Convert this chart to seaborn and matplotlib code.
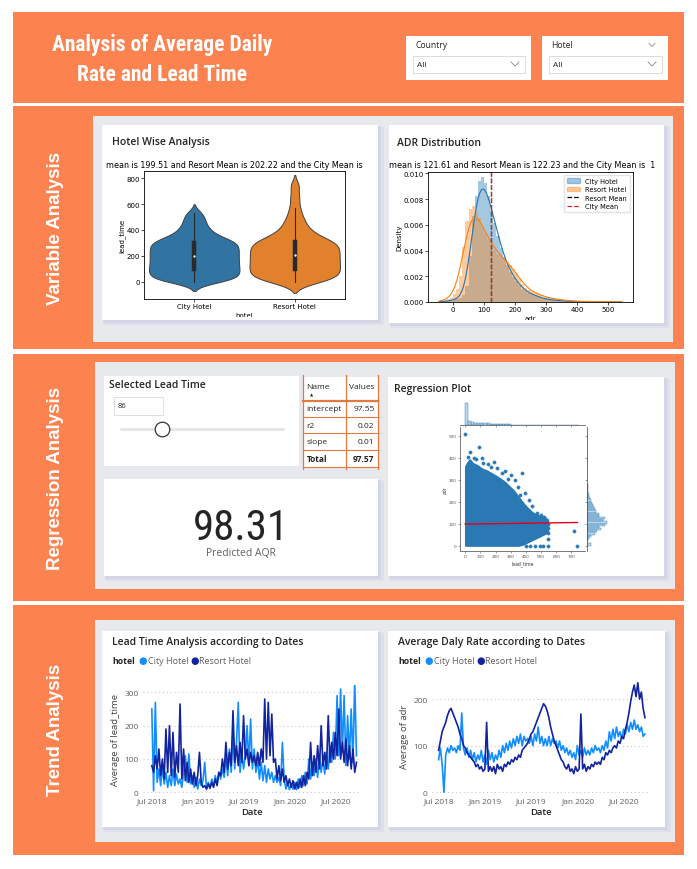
import numpy as np
import pandas as pd
import matplotlib
matplotlib.use('Agg')
import matplotlib.pyplot as plt
import matplotlib.dates as mdates
from matplotlib.patches import Rectangle
from matplotlib.lines import Line2D
from matplotlib.transforms import Bbox, TransformedBbox
from matplotlib import font_manager
import seaborn as sns

plt.rcParams['font.family'] = ['DejaVu Sans']

# ---------------- data ----------------
hotels = ['City Hotel', 'Resort Hotel']
city_lead_sample = [0, 7, 15, 24, 31, 40, 48, 57, 64, 73, 81, 90, 97, 105, 114, 122, 130, 139, 147, 156,
                    164, 172, 181, 189, 197, 206, 214, 223, 231, 239, 248, 256, 264, 273, 281, 290, 298,
                    306, 315, 323, 332, 346, 362, 381, 402, 428, 458, 492, 530]
resort_lead_sample = [0, 6, 14, 23, 32, 39, 49, 56, 65, 72, 82, 89, 98, 106, 113, 123, 131, 138, 148, 155,
                      165, 173, 180, 190, 198, 205, 215, 222, 232, 240, 247, 257, 265, 272, 282, 289, 299,
                      307, 314, 324, 333, 348, 365, 385, 408, 435, 470, 510, 570, 650, 740]
overall_lead_mean, resort_lead_mean = 199.51, 202.22
overall_adr_mean, resort_adr_mean, city_adr_mean = 121.61, 122.23, 121.61

adr_bin_centers = list(range(-45, 550, 10))
city_adr_density = [0.00002, 0.00003, 0.00005, 0.00008, 0.0001,
                    0.0002, 0.0002, 0.0003, 0.0005, 0.0012, 0.0035, 0.0065, 0.0080, 0.0092, 0.0095,
                    0.0090, 0.0080, 0.0070, 0.0060, 0.0050, 0.0041, 0.0034, 0.0028, 0.0023, 0.0019,
                    0.0016, 0.0013, 0.0010, 0.0008, 0.0007, 0.0006, 0.0005, 0.0004, 0.0003, 0.00025,
                    0.0002, 0.00018, 0.00015, 0.00012, 0.0001, 0.00008, 0.00006, 0.00005, 0.00004, 0.00003,
                    0.00002, 0.00002, 0.00002, 0.00001, 0.00001, 0.00001, 0.00001, 0.00001, 0.00001, 0.00001,
                    0.00001, 0.00001, 0.00001, 0.00001, 0.00001]
resort_adr_density = [0.00005, 0.0001, 0.00015, 0.0002, 0.0003,
                      0.0006, 0.0010, 0.0020, 0.0042, 0.0062, 0.0071, 0.0073, 0.0069, 0.0064, 0.0058,
                      0.0053, 0.0048, 0.0044, 0.0040, 0.0037, 0.0035, 0.0033, 0.0031, 0.0028, 0.0025,
                      0.0022, 0.0018, 0.0014, 0.0011, 0.0009, 0.0008, 0.0007, 0.0006, 0.0005, 0.0004,
                      0.00035, 0.0003, 0.00025, 0.0002, 0.00018, 0.00015, 0.00012, 0.0001, 0.00008, 0.00006,
                      0.00005, 0.00005, 0.00004, 0.00004, 0.00003, 0.00003, 0.00003, 0.00002, 0.00002, 0.00002,
                      0.00002, 0.00001, 0.00001, 0.00001, 0.00001]

selected_lead_time = 86
table_names = ['intercept', 'r2', 'slope']
table_values = [97.55, 0.02, 0.01]
table_total = 97.57
predicted_adr = 98.31

reg_lead_grid = [0, 15, 30, 50, 80, 110, 140, 170, 200, 230, 260, 290, 320, 350, 380, 410, 440, 470, 500, 530, 545]
reg_adr_upper = [360, 380, 392, 375, 365, 350, 342, 330, 318, 305, 290, 270, 250, 222, 195, 172, 152, 140, 135, 125, 118]
reg_adr_lower = [0, 0, 0, 0, 0, 0, 0, 0, 0, 0, 0, 0, 0, 0, 5, 15, 25, 35, 45, 55, 60]
out_lead = [0, 33, 88, 110, 187, 260, 300, 330, 374, 418, 395, 440, 470, 500, 520, 545, 545, 545, 545, 545,
            400, 430, 460, 490, 510, 715, 740, 210, 150, 60, 120, 240, 280, 345, 360, 20, 70, 170]
out_adr = [510, 425, 447, 397, 380, 340, 320, 300, 330, 208, 240, 180, 150, 140, 130, 100, 80, 55, 30, 0,
           0, 0, 0, 0, 0, 64, 0, 355, 370, 400, 375, 330, 305, 265, 230, 405, 395, 360]
lead_hist_centers = list(range(10, 750, 20))
lead_hist_counts = [1.0, 0.16, 0.13, 0.11, 0.10, 0.09, 0.08, 0.07, 0.062, 0.055, 0.048, 0.042, 0.036, 0.03,
                    0.026, 0.022, 0.019, 0.016, 0.013, 0.011, 0.009, 0.007, 0.006, 0.005, 0.004, 0.003,
                    0.0025, 0.002, 0.0015, 0.001, 0.0008, 0.0006, 0.0004, 0.0003, 0.0002, 0.0002, 0.0003]
adr_hist_centers = list(range(5, 515, 10))
adr_hist_counts = [0.22, 0.02, 0.04, 0.10, 0.22, 0.38, 0.52, 0.68, 0.6, 0.88,
                   1.0, 0.78, 0.92, 0.62, 0.58, 0.47, 0.42, 0.33, 0.3, 0.23,
                   0.2, 0.15, 0.12, 0.09, 0.07, 0.05, 0.04, 0.03, 0.02, 0.015,
                   0.01, 0.008, 0.006, 0.005, 0.004, 0.003, 0.002, 0.002, 0.001, 0.001,
                   0.001, 0.0005, 0.0005, 0.0005, 0.0003, 0.0003, 0.0002, 0.0002, 0.0001, 0.0001, 0.0003]

week_dates = pd.date_range('2018-07-01', periods=117, freq='7D')
city_lead_ts = [250, 5, 270, 30, 70, 20, 80, 25, 60, 15, 50, 20, 70, 20, 55, 25,
                40, 15, 60, 110, 30, 115, 25, 50, 15, 45, 10, 40, 20, 35,
                90, 10, 30, 15, 40, 20, 50, 25, 60, 40,
                70, 45, 110, 50, 130, 60, 190, 70, 150, 270,
                60, 120, 70, 110, 200, 80, 220, 70, 130, 60,
                100, 40, 90, 35, 80, 30, 70, 40, 60, 30,
                50, 30, 45, 20, 150, 40, 10, 30, 8, 25,
                10, 30, 8, 40, 15, 50, 20, 60, 25, 100,
                40, 90, 50, 100, 45, 110, 60, 100, 55, 120,
                70, 140, 90, 180, 100, 290, 110, 310, 120, 290,
                80, 230, 100, 250, 90, 335, 110]
resort_lead_ts = [80, 60, 110, 70, 130, 50, 100, 40, 190, 60, 200, 50, 180, 45, 120, 60,
                  265, 40, 130, 35, 90, 30, 70, 25, 60, 20, 50, 120, 30, 15,
                  20, 10, 25, 12, 30, 15, 40, 20, 60, 50,
                  100, 60, 150, 70, 120, 80, 245, 90, 140, 80,
                  150, 90, 230, 100, 130, 80, 120, 90, 110, 80,
                  120, 80, 130, 90, 280, 100, 270, 110, 235, 90,
                  100, 40, 80, 35, 70, 30, 50, 20, 40, 15,
                  35, 10, 30, 12, 40, 15, 50, 20, 60, 40,
                  150, 50, 110, 60, 140, 70, 200, 80, 120, 70,
                  230, 90, 150, 100, 180, 110, 250, 100, 150, 90,
                  160, 80, 140, 70, 130, 60, 90]
city_adr_ts = [70, 95, 60, 0, 80, 95, 85, 100, 90, 95,
               85, 100, 90, 170, 95, 80, 95, 75, 90, 70,
               85, 65, 80, 70, 90, 65, 80, 60, 90, 70,
               85, 65, 80, 70, 90, 75, 100, 85, 105, 90,
               110, 95, 115, 100, 120, 105, 125, 100, 120, 110,
               115, 105, 120, 100, 125, 110, 140, 105, 120, 100,
               115, 100, 120, 100, 115, 105, 110, 95, 110, 90,
               100, 85, 95, 80, 90, 75, 85, 70, 100, 80,
               90, 75, 95, 80, 90, 80, 95, 85, 100, 90,
               95, 85, 100, 90, 110, 95, 130, 110, 135, 115,
               140, 120, 130, 115, 135, 125, 145, 130, 150, 135,
               155, 135, 145, 130, 140, 120, 125]
resort_adr_ts = [90, 110, 130, 140, 150, 165, 175, 180, 170, 160,
                 150, 140, 125, 115, 100, 95, 85, 80, 75, 70,
                 65, 55, 60, 50, 55, 45, 50, 150, 45, 55,
                 45, 55, 40, 60, 50, 55, 45, 60, 55, 65,
                 60, 70, 65, 75, 70, 80, 75, 90, 95, 100,
                 105, 115, 125, 130, 140, 150, 160, 170, 180, 190,
                 185, 175, 160, 140, 125, 110, 100, 90, 80, 70,
                 65, 55, 50, 60, 45, 50, 40, 55, 45, 50,
                 168, 50, 60, 45, 55, 50, 60, 55, 65, 60,
                 65, 60, 75, 70, 85, 80, 90, 85, 95, 100,
                 95, 110, 105, 120, 115, 135, 150, 170, 195, 215,
                 230, 205, 235, 200, 215, 180, 160]

# ---------------- helpers ----------------
W, H = 697, 870
fig = plt.figure(figsize=(W / 100, H / 100), dpi=100)
fig.patch.set_facecolor('white')

ORANGE = '#FC8250'
PANEL = '#E8E9ED'
SHADOW = '#D4D6E5'
DARK = '#252423'
MID = '#605E5C'
TITLE_FONT = ['Open Sans', 'DejaVu Sans']
installed = {f.name for f in font_manager.fontManager.ttflist}
NARROW = [f for f in ['Liberation Sans Narrow', 'Roboto Condensed', 'Open Sans Condensed'] if f in installed]
HEAD_FONT = NARROW + ['DejaVu Sans']


def fx(x):
    return x / W


def fy(y):
    return 1 - y / H


def box(x0, y0, x1, y1, color, z=-5, ec='none', lw=0):
    r = Rectangle((fx(x0), fy(y1)), (x1 - x0) / W, (y1 - y0) / H, transform=fig.transFigure,
                  facecolor=color, edgecolor=ec, linewidth=lw, zorder=z)
    fig.add_artist(r)
    return r


def card(x0, y0, x1, y1, shadow=True):
    if shadow:
        box(x0 + 2, y0 + 2, x1 + 6, y1 + 5, '#DDDFEA', z=-4)
        box(x0 + 1, y0 + 1, x1 + 3, y1 + 3, SHADOW, z=-3.5)
    box(x0, y0, x1, y1, 'white', z=-3)


def txt(x, y, s, **kw):
    kw.setdefault('va', 'center')
    return fig.text(fx(x), fy(y), s, **kw)


def line(xs, ys, **kw):
    fig.add_artist(Line2D([fx(v) for v in xs], [fy(v) for v in ys], transform=fig.transFigure, **kw))


def axes_px(x0, y0, x1, y1):
    return fig.add_axes([fx(x0), fy(y1), (x1 - x0) / W, (y1 - y0) / H])


def clip_to(artist, x0, y0, x1, y1):
    bb = TransformedBbox(Bbox.from_extents(fx(x0), fy(y1), fx(x1), fy(y0)), fig.transFigure)
    artist.set_clip_box(bb)
    artist.set_clip_on(True)


# ---------------- background ----------------
box(13, 13, 684, 104, ORANGE)
box(13, 107, 684, 350, ORANGE)
box(13, 355, 684, 602, ORANGE)
box(13, 606, 684, 856, ORANGE)
box(93, 117, 673, 343, PANEL, z=-4.5)
box(95, 363, 675, 590, PANEL, z=-4.5)
box(95, 621, 675, 843, PANEL, z=-4.5)

# header
hsize = 15.5 if NARROW else 13
hdr = dict(color='white', fontsize=hsize, fontweight='bold', ha='center', family=HEAD_FONT)
txt(162, 45, 'Analysis of Average Daily', **hdr)
txt(162, 75, 'Rate and Lead Time', **hdr)

for (bx0, bx1, label, top_chev) in [(406, 531, 'Country', False), (542, 668, 'Hotel', True)]:
    box(bx0, 37, bx1, 81, 'white', z=-2)
    txt(bx0 + 9, 46, label, fontsize=6.2, color=DARK, family=TITLE_FONT)
    box(bx0 + 7, 57, bx1 - 6, 74, 'white', z=-1.5, ec='#D6D6D6', lw=0.6)
    txt(bx0 + 11, 65.5, 'All', fontsize=6, color=DARK, family=TITLE_FONT)
    cx = bx1 - 16
    line([cx - 4, cx, cx + 4], [63, 67, 63], color='#8A8886', lw=0.6)
    if top_chev:
        line([cx - 3, cx, cx + 3], [44.5, 47.5, 44.5], color='#8A8886', lw=0.6)

side = dict(rotation=90, color='white', fontsize=13.5, fontweight='bold', ha='center',
            family=['Liberation Sans', 'DejaVu Sans'])
txt(56, 228, 'Variable Analysis', **side)
txt(56, 478, 'Regression Analysis', **side)
txt(56, 730, 'Trend Analysis', **side)

ttl = dict(fontsize=7.5, color=DARK, fontweight='semibold', family=TITLE_FONT)

# ---------------- Hotel Wise Analysis ----------------
card(102, 126, 378, 321)
txt(112, 143, 'Hotel Wise Analysis', **ttl)
t = txt(106, 166, 'mean is %.2f and Resort Mean is %.2f and the City Mean is' % (overall_lead_mean, resort_lead_mean),
        fontsize=5.8, color='black')
clip_to(t, 104, 126, 372, 321)

ax = axes_px(144, 172, 345, 300)
df_v = pd.DataFrame({'hotel': [hotels[0]] * len(city_lead_sample) + [hotels[1]] * len(resort_lead_sample),
                     'lead_time': city_lead_sample + resort_lead_sample})
sns.violinplot(data=df_v, x='hotel', y='lead_time', hue='hotel', palette=['#1f77b4', '#ff7f0e'],
               bw_adjust=0.55, width=0.9, linewidth=0.7, inner='box', legend=False, ax=ax,
               inner_kws=dict(box_width=3.2, whis_width=0.8, color='#2a2a2a', marker='.', markersize=2))
ax.set_ylim(-131, 854)
ax.set_yticks([0, 200, 400, 600, 800])
ax.tick_params(labelsize=5, length=2, width=0.5, pad=1)
ax.set_ylabel('lead_time', fontsize=5, labelpad=1)
ax.set_xlabel('hotel', fontsize=5, labelpad=2)
clip_to(ax.xaxis.label, 102, 126, 378, 318)
for s in ax.spines.values():
    s.set_linewidth(0.6)
    s.set_color('black')

# ---------------- ADR Distribution ----------------
card(389, 126, 664, 324)
txt(397, 143, 'ADR Distribution', **ttl)
t = txt(389, 166, 'mean is %.2f and Resort Mean is %.2f and the City Mean is  1' % (overall_adr_mean, resort_adr_mean),
        fontsize=5.8, color='black')
clip_to(t, 389, 126, 664, 324)

ax = axes_px(428, 173, 633, 303)
edges = [c - 5 for c in adr_bin_centers] + [adr_bin_centers[-1] + 5]
sns.histplot(x=adr_bin_centers, weights=city_adr_density, bins=edges, stat='density', kde=True,
             kde_kws={'bw_adjust': 0.5}, color='#1f77b4', alpha=0.4, linewidth=0, ax=ax,
             line_kws={'linewidth': 0.8})
sns.histplot(x=adr_bin_centers, weights=resort_adr_density, bins=edges, stat='density', kde=True,
             kde_kws={'bw_adjust': 0.5}, color='#ff7f0e', alpha=0.4, linewidth=0, ax=ax,
             line_kws={'linewidth': 0.8})
ax.axvline(resort_adr_mean, color='black', ls='--', lw=0.9)
ax.axvline(city_adr_mean, color='#d62728', ls='--', lw=0.9)
ax.set_xlim(-81, 581)
ax.set_ylim(0, 0.0101)
ax.set_xticks([0, 100, 200, 300, 400, 500])
ax.set_yticks([0, 0.002, 0.004, 0.006, 0.008, 0.010])
ax.yaxis.set_major_formatter(matplotlib.ticker.FormatStrFormatter('%.3f'))
ax.tick_params(labelsize=5, length=2, width=0.5, pad=1)
ax.set_ylabel('Density', fontsize=5, labelpad=1)
ax.set_xlabel('adr', fontsize=5, labelpad=2)
clip_to(ax.xaxis.label, 389, 126, 664, 321)
for s in ax.spines.values():
    s.set_linewidth(0.6)
    s.set_color('black')
handles = [Rectangle((0, 0), 1, 1, color='#1f77b4', alpha=0.4),
           Rectangle((0, 0), 1, 1, color='#ff7f0e', alpha=0.4),
           Line2D([], [], color='black', ls='--', lw=0.9),
           Line2D([], [], color='#d62728', ls='--', lw=0.9)]
ax.legend(handles, ['City Hotel', 'Resort Hotel', 'Resort Mean', 'City Mean'], loc='upper right',
          fontsize=4.8, frameon=True, borderpad=0.4, handlelength=2.0, labelspacing=0.35,
          fancybox=False, edgecolor='#DDDDDD')

# ---------------- Selected Lead Time ----------------
card(104, 377, 299, 467, shadow=False)
txt(109, 386, 'Selected Lead Time', **ttl)
box(114, 398, 163, 416, 'white', z=-2, ec='#D9D9D9', lw=0.6)
txt(118, 407, str(selected_lead_time), fontsize=5.5, color=DARK, family=TITLE_FONT)
line([121, 283], [429.5, 429.5], color='#E6E6E6', lw=2.2, solid_capstyle='round')
fig.add_artist(Line2D([fx(161.7)], [fy(429.5)], transform=fig.transFigure, marker='o', markersize=10.5,
                      markerfacecolor='white', markeredgecolor='#333333', markeredgewidth=0.9))

# table
TC = '#E27A3F'
box(302.7, 378, 377.7, 468, 'white', z=-2)
for xv in [302.7, 345.7, 377.7]:
    line([xv, xv], [376, 470], color=TC, lw=0.9)
line([302.7, 377.7], [401.7, 401.7], color=TC, lw=1.6)
for yv in [417.7, 434.3, 451.0, 468.3]:
    line([302.7, 377.7], [yv, yv], color=TC, lw=0.8)
tf = dict(fontsize=6, color=DARK, family=TITLE_FONT)
txt(306.5, 387.5, 'Name', **tf)
txt(309.5, 395.5, '\u25b2', fontsize=3, color=DARK)
txt(374.5, 387.5, 'Values', ha='right', **tf)
for i, (n, v) in enumerate(zip(table_names, table_values)):
    yv = 409.7 + i * 16.6
    txt(306.5, yv, n, **tf)
    txt(374.5, yv, '%.2f' % v, ha='right', **tf)
txt(306.5, 459.6, 'Total', fontweight='bold', **tf)
txt(374.5, 459.6, '%.2f' % table_total, ha='right', fontweight='bold', **tf)

# KPI
card(104, 480, 378, 577)
ksize = 31 if NARROW else 25
txt(241, 528, '%.2f' % predicted_adr, fontsize=ksize, color=DARK, ha='center', family=HEAD_FONT)
txt(241, 553, 'Predicted AQR', fontsize=7.5, color=MID, ha='center', family=TITLE_FONT)

# ---------------- Regression Plot ----------------
card(388, 378, 664, 577)
txt(394, 390, 'Regression Plot', **ttl)
SC = '#2A78B4'
axm = axes_px(460, 428, 585, 552)
axm.fill_between(reg_lead_grid, reg_adr_lower, reg_adr_upper, color=SC, lw=1.2, edgecolor=SC)
sns.scatterplot(x=out_lead, y=out_adr, color=SC, s=6, edgecolor=SC, linewidth=0.2, ax=axm)
reg_x = [0, 740]
reg_y = [table_values[0] + table_values[2] * v for v in reg_x]
sns.lineplot(x=reg_x, y=reg_y, color='#E3001B', lw=1.0, ax=axm)
axm.set_xlim(-35, 790)
axm.set_ylim(-25, 540)
axm.set_xticks([0, 100, 200, 300, 400, 500, 600, 700])
axm.set_yticks([0, 100, 200, 300, 400, 500])
axm.tick_params(labelsize=3, length=1.5, width=0.4, pad=1, colors='#555555')
axm.set_xlabel('lead_time', fontsize=3.3, labelpad=1, color='#333333')
axm.set_ylabel('adr', fontsize=3.3, labelpad=1, color='#333333')
for k, s in axm.spines.items():
    s.set_linewidth(0.5)
    s.set_color('#444444')
    s.set_visible(k in ('left', 'bottom'))

axt = axes_px(460, 403, 585, 426)
sns.histplot(x=lead_hist_centers, weights=lead_hist_counts, bins=[c - 10 for c in lead_hist_centers] + [750],
             color=SC, alpha=0.3, edgecolor=SC, linewidth=0.3, ax=axt)
axt.set_xlim(-35, 790)
axt.set_xticks([0, 100, 200, 300, 400, 500, 600, 700])
axt.tick_params(labelbottom=False, left=False, labelleft=False, length=1.5, width=0.4, colors='#555555')
axt.set_xlabel('')
axt.set_ylabel('')
for k, s in axt.spines.items():
    s.set_linewidth(0.5)
    s.set_color('#444444')
    s.set_visible(k == 'bottom')

axr = axes_px(587, 428, 608, 552)
sns.histplot(y=adr_hist_centers, weights=adr_hist_counts, bins=[c - 5 for c in adr_hist_centers] + [515],
             color=SC, alpha=0.3, edgecolor=SC, linewidth=0.3, ax=axr)
axr.set_ylim(-25, 540)
axr.set_yticks([0, 100, 200, 300, 400, 500])
axr.tick_params(labelleft=False, bottom=False, labelbottom=False, length=1.5, width=0.4, colors='#555555')
axr.set_xlabel('')
axr.set_ylabel('')
for k, s in axr.spines.items():
    s.set_linewidth(0.5)
    s.set_color('#444444')
    s.set_visible(k == 'left')

# ---------------- Trend charts ----------------
CITY_C = '#118DFF'
RES_C = '#12239E'


def trend(ax, city_vals, resort_vals, ylim, yticks, xlim, ylabel):
    df = pd.DataFrame({'Date': list(week_dates) * 2,
                       'value': city_vals + resort_vals,
                       'hotel': [hotels[0]] * len(city_vals) + [hotels[1]] * len(resort_vals)})
    sns.lineplot(data=df, x='Date', y='value', hue='hotel', hue_order=hotels,
                 palette={hotels[0]: CITY_C, hotels[1]: RES_C}, lw=1.2, legend=False, ax=ax)
    ax.set_ylim(*ylim)
    ax.set_yticks(yticks)
    ax.set_xlim(mdates.date2num(pd.Timestamp(xlim[0])), mdates.date2num(pd.Timestamp(xlim[1])))
    ax.xaxis.set_major_locator(mdates.MonthLocator(bymonth=[1, 7]))
    ax.xaxis.set_major_formatter(mdates.DateFormatter('%b %Y'))
    ax.tick_params(length=0, labelsize=6, colors=MID, pad=3)
    for lab in ax.get_xticklabels() + ax.get_yticklabels():
        lab.set_family(TITLE_FONT)
    ax.yaxis.grid(True, linestyle=(0, (1, 2.5)), color='#C8C6C4', lw=0.8)
    ax.set_axisbelow(True)
    for s in ax.spines.values():
        s.set_visible(False)
    ax.set_facecolor('none')
    ax.set_xlabel('Date', fontsize=6.8, color=DARK, family=TITLE_FONT, fontweight='semibold', labelpad=2)
    ax.set_ylabel(ylabel, fontsize=6.8, color='#444444', family=TITLE_FONT, labelpad=3)


def legend_row(x, y):
    txt(x, y, 'hotel', fontsize=6.3, color=DARK, fontweight='bold', family=TITLE_FONT)
    txt(x + 31, y, '\u25cf', fontsize=7, color=CITY_C, ha='center')
    txt(x + 35.5, y, 'City Hotel', fontsize=6.5, color=MID, family=TITLE_FONT)
    txt(x + 82.5, y, '\u25cf', fontsize=7, color=RES_C, ha='center')
    txt(x + 87, y, 'Resort Hotel', fontsize=6.5, color=MID, family=TITLE_FONT)


card(102, 632, 378, 828)
txt(112, 643, 'Lead Time Analysis according to Dates', **ttl)
legend_row(112, 661)
ax = axes_px(143, 686, 360, 794)
trend(ax, city_lead_ts, resort_lead_ts, (-2, 322), [0, 100, 200, 300], ('2018-05-27', '2020-10-04'),
      'Average of lead_time')

card(388, 632, 665, 828)
txt(398, 643, 'Average Daly Rate according to Dates', **ttl)
legend_row(398, 661)
ax = axes_px(432, 680, 650, 794)
trend(ax, city_adr_ts, resort_adr_ts, (-1.5, 243), [0, 100, 200], ('2018-06-05', '2020-10-10'),
      'Average of adr')

fig.savefig('out.png', dpi=100, facecolor='white')
